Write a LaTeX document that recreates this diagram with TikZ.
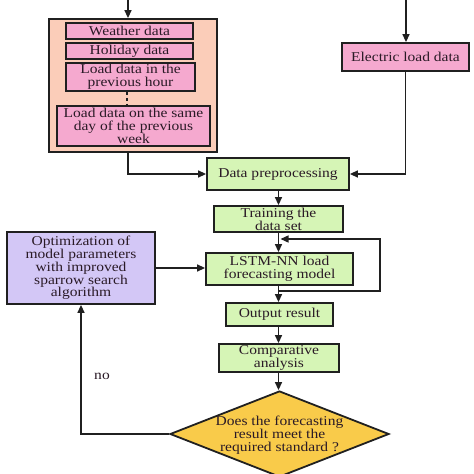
\documentclass[tikz,border=0pt]{standalone}
\usepackage{fontspec}
\setmainfont{Liberation Serif}[FakeStretch=1.15]
\usetikzlibrary{shapes.geometric,arrows.meta,calc}
\definecolor{salmon}{HTML}{FBCDB9}
\definecolor{pinkb}{HTML}{F5A9CF}
\definecolor{greenb}{HTML}{D6F5B6}
\definecolor{purpleb}{HTML}{D3C7F6}
\definecolor{yellowb}{HTML}{F9CB4A}
\definecolor{edge}{HTML}{202020}
\definecolor{txt}{HTML}{2A1A26}
\begin{document}
\begin{tikzpicture}[x=1pt,y=-1pt,
  every node/.style={font=\fontsize{13.5}{12.8}\selectfont, text=txt, align=center, inner sep=0pt},
  box/.style={draw=edge, line width=1.8pt, rectangle},
  pinkbox/.style={box, fill=pinkb},
  greenbox/.style={box, fill=greenb},
  conn/.style={draw=edge, line width=1.4pt},
  arr/.style={conn, -{Triangle[length=8pt,width=7pt]}}]
\useasboundingbox (0,0) rectangle (474,474);
\node[box, fill=salmon, minimum width=168pt, minimum height=133pt] (outer) at (133,85.5) {};
\node[pinkbox, minimum width=127pt, minimum height=16pt] (weather) at (129.5,31) {Weather data};
\node[pinkbox, minimum width=127pt, minimum height=16pt] (holiday) at (129.5,51) {Holiday data};
\node[pinkbox, minimum width=129pt, minimum height=28pt] (prevhour) at (130.5,77) {Load data in the\\previous hour};
\node[pinkbox, minimum width=153pt, minimum height=40pt] (sameday) at (133.5,126) {Load data on the same\\day of the previous\\week};
\node[pinkbox, minimum width=127pt, minimum height=28pt] (electric) at (405.5,57) {Electric load data};
\node[greenbox, minimum width=142pt, minimum height=32pt] (prep) at (278,174) {Data preprocessing};
\node[greenbox, minimum width=129pt, minimum height=26pt] (train) at (278.5,219) {Training the\\data set};
\node[greenbox, minimum width=147pt, minimum height=32pt] (lstm) at (279.5,269) {LSTM-NN load\\forecasting model};
\node[greenbox, minimum width=107pt, minimum height=23pt] (output) at (279.5,314.5) {Output result};
\node[greenbox, minimum width=120pt, minimum height=28pt] (comp) at (279,358) {Comparative\\analysis};
\node[draw=edge, line width=1.8pt, fill=yellowb, diamond, minimum width=219pt, minimum height=86pt] (dec) at (279.5,434) {};
\node (dectext) at (279.5,435) {Does the forecasting\\result meet the\\required standard ?};
\node[box, fill=purpleb, minimum width=148pt, minimum height=72pt] (optim) at (81,268) {Optimization of\\model parameters\\with improved\\sparrow search\\algorithm};
\node (no) at (102,376) {no};
\coordinate (topA) at (128,0);
\coordinate (topB) at (406,0);
\coordinate (loopR) at (380,291);
\coordinate (loopL) at (380,239);
\coordinate (leftX) at (81,434);
\draw[arr] (topA) -- (topA |- outer.north);
\draw[arr] (topB) -- (topB |- electric.north);
\draw[conn, dashed] (prevhour.south -| 127,0) -- (sameday.north -| 127,0);
\draw[arr] (topA |- outer.south) |- (prep.west);
\draw[arr] (electric.south) |- (prep.east);
\draw[arr] (prep.south -| train.north) -- (train.north);
\draw[arr] (train.south) -- (train.south |- lstm.north);
\draw[arr] (lstm.south -| train.south) -- (output.north -| train.south);
\draw[arr] (train.south |- loopR) -- (loopR) -- (loopL) -- ($(train.south |- loopL)+(2,0)$);
\draw[arr] (output.south -| train.south) -- (comp.north -| train.south);
\draw[arr] (comp.south -| train.south) -- (dec.north -| train.south);
\draw[arr] (dec.west) -- (leftX) -- (optim.south -| leftX);
\draw[arr] (optim.east) -- (optim.east -| lstm.west);
\end{tikzpicture}
\end{document}
